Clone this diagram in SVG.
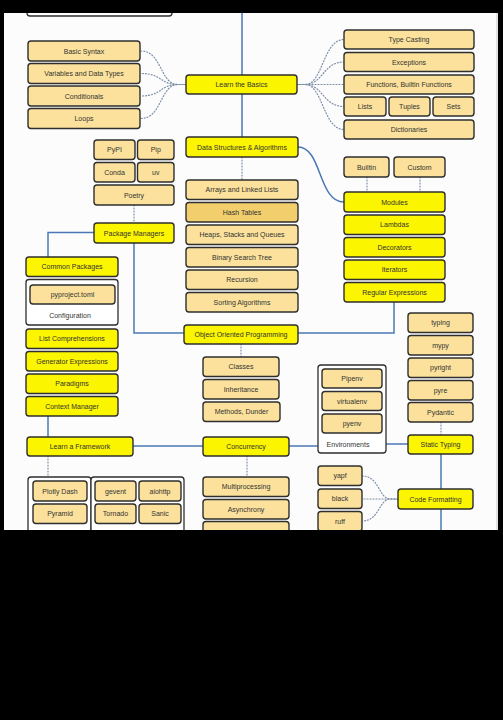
<svg xmlns="http://www.w3.org/2000/svg" width="503" height="720" viewBox="0 0 503 720">
<defs>
<style>
.n{fill:#fbe19b;stroke:#2e2e2e;stroke-width:1.4}
.h{fill:#f2cf6c;stroke:#2e2e2e;stroke-width:1.4}
.y{fill:#fbf500;stroke:#2e2e2e;stroke-width:1.4}
.g{fill:#ffffff;stroke:#2e2e2e;stroke-width:1.3}
text{font-family:"Liberation Sans","DejaVu Sans",sans-serif;font-size:7px;fill:#333;text-anchor:middle;dominant-baseline:central}
.b{fill:none;stroke:#4a78b4;stroke-width:1.5}
.d{fill:none;stroke:#7c8ea8;stroke-width:1.2;stroke-dasharray:1 2;stroke-linecap:round}
</style>
<clipPath id="clip"><rect x="4" y="13" width="494" height="517"/></clipPath>
</defs>
<rect x="0" y="0" width="503" height="720" fill="#000"/>
<rect x="4" y="13" width="494" height="517" fill="#fcfcfc"/>
<line x1="497" y1="13" x2="497" y2="530" stroke="#c8c8c8" stroke-width="1"/>
<g clip-path="url(#clip)">
<g id="connectors">
<path class="b" d="M242,13 V75"/>
<path class="b" d="M242,94 V137"/>
<path class="b" d="M298,147 C322,147 318,202 344,202"/>
<path class="b" d="M134,243 V333 H184"/>
<path class="b" d="M94,232.5 H48 V257"/>
<path class="b" d="M298,333 H394 V302"/>
<path class="b" d="M48,416 V437"/>
<path class="b" d="M133,446 H203"/>
<path class="b" d="M289,446 H318"/>
<path class="b" d="M386,444 H408"/>
<path class="b" d="M441,454 V489"/>
<path class="b" d="M441,509 V530"/>
<path class="d" d="M186,84.5 H178 C160,84.5 162,51 141,51"/>
<path class="d" d="M186,84.5 H178 C160,84.5 162,73.5 141,73.5"/>
<path class="d" d="M186,84.5 H178 C160,84.5 162,96 141,96"/>
<path class="d" d="M186,84.5 H178 C160,84.5 162,118.5 141,118.5"/>
<path class="d" d="M297,84.5 H305 C323,84.5 323,39.5 344,39.5"/>
<path class="d" d="M297,84.5 H305 C323,84.5 323,62 344,62"/>
<path class="d" d="M297,84.5 H344"/>
<path class="d" d="M297,84.5 H305 C323,84.5 323,106.5 344,106.5"/>
<path class="d" d="M297,84.5 H305 C323,84.5 323,129.5 344,129.5"/>
<path class="d" d="M242,157 V180"/>
<path class="d" d="M134,205 V223"/>
<path class="d" d="M367,177 V192"/>
<path class="d" d="M420,177 V192"/>
<path class="d" d="M241,344 V357"/>
<path class="d" d="M247,456 V477"/>
<path class="d" d="M48,456 V477"/>
<path class="d" d="M441,422 V435"/>
<path class="d" d="M398,499 H391 C378,499 380,476 362,476"/>
<path class="d" d="M398,499 H362"/>
<path class="d" d="M398,499 H391 C378,499 380,521 362,521"/>
</g>

<g id="top-box"><rect class="g" x="27" y="0" width="145" height="16" rx="3"/></g>

<g id="learn-basics"><rect class="y" x="186" y="75" width="111" height="19" rx="3"/><text x="241.5" y="84.5">Learn the Basics</text></g>
<g id="basic-syntax"><rect class="n" x="28" y="41" width="112" height="20" rx="3"/><text x="84" y="51">Basic Syntax</text></g>
<g id="variables"><rect class="n" x="28" y="63.5" width="112" height="20" rx="3"/><text x="84" y="73.5">Variables and Data Types</text></g>
<g id="conditionals"><rect class="n" x="28" y="86" width="112" height="20" rx="3"/><text x="84" y="96">Conditionals</text></g>
<g id="loops"><rect class="n" x="28" y="108.5" width="112" height="20" rx="3"/><text x="84" y="118.5">Loops</text></g>

<g id="type-casting"><rect class="n" x="344" y="30" width="130" height="19" rx="3"/><text x="409" y="39.5">Type Casting</text></g>
<g id="exceptions"><rect class="n" x="344" y="52.5" width="130" height="19" rx="3"/><text x="409" y="62">Exceptions</text></g>
<g id="functions"><rect class="n" x="344" y="75" width="130" height="19" rx="3"/><text x="409" y="84.5">Functions, Builtin Functions</text></g>
<g id="lists"><rect class="n" x="344" y="97" width="42" height="19" rx="3"/><text x="365" y="106.5">Lists</text></g>
<g id="tuples"><rect class="n" x="389" y="97" width="41" height="19" rx="3"/><text x="409.5" y="106.5">Tuples</text></g>
<g id="sets"><rect class="n" x="433" y="97" width="41" height="19" rx="3"/><text x="453.5" y="106.5">Sets</text></g>
<g id="dictionaries"><rect class="n" x="344" y="120" width="130" height="19" rx="3"/><text x="409" y="129.5">Dictionaries</text></g>

<g id="dsa"><rect class="y" x="186" y="137" width="112" height="20" rx="3"/><text x="242" y="147">Data Structures &amp; Algorithms</text></g>
<g id="arrays"><rect class="n" x="186" y="180" width="112" height="19.5" rx="3"/><text x="242" y="189.75">Arrays and Linked Lists</text></g>
<g id="hash"><rect class="h" x="186" y="202.5" width="112" height="19.5" rx="3"/><text x="242" y="212.25">Hash Tables</text></g>
<g id="heaps"><rect class="n" x="186" y="225" width="112" height="19.5" rx="3"/><text x="242" y="234.75">Heaps, Stacks and Queues</text></g>
<g id="bst"><rect class="n" x="186" y="247.5" width="112" height="19.5" rx="3"/><text x="242" y="257.25">Binary Search Tree</text></g>
<g id="recursion"><rect class="n" x="186" y="270" width="112" height="19.5" rx="3"/><text x="242" y="279.75">Recursion</text></g>
<g id="sorting"><rect class="n" x="186" y="292.5" width="112" height="19.5" rx="3"/><text x="242" y="302.25">Sorting Algorithms</text></g>

<g id="pypi"><rect class="n" x="94" y="140" width="41" height="19.5" rx="3"/><text x="114.5" y="149.75">PyPI</text></g>
<g id="pip"><rect class="n" x="137.5" y="140" width="36.5" height="19.5" rx="3"/><text x="155.75" y="149.75">Pip</text></g>
<g id="conda"><rect class="n" x="94" y="162.5" width="41" height="19.5" rx="3"/><text x="114.5" y="172.25">Conda</text></g>
<g id="uv"><rect class="n" x="137.5" y="162.5" width="36.5" height="19.5" rx="3"/><text x="155.75" y="172.25">uv</text></g>
<g id="poetry"><rect class="n" x="94" y="185" width="80" height="20" rx="3"/><text x="134" y="195">Poetry</text></g>
<g id="package-managers"><rect class="y" x="94" y="223" width="80" height="20" rx="3"/><text x="134" y="233">Package Managers</text></g>

<g id="common-packages"><rect class="y" x="26" y="257" width="92" height="19.5" rx="3"/><text x="72" y="266.75">Common Packages</text></g>
<g id="configuration"><rect class="g" x="26" y="279.5" width="92" height="45.5" rx="3"/><rect class="n" x="30" y="285" width="85" height="19" rx="3"/><text x="72.5" y="294.5">pyproject.toml</text><text x="70" y="315">Configuration</text></g>
<g id="list-comp"><rect class="y" x="26" y="329" width="92" height="19.5" rx="3"/><text x="72" y="338.75">List Comprehensions</text></g>
<g id="generator"><rect class="y" x="26" y="351.5" width="92" height="19.5" rx="3"/><text x="72" y="361.25">Generator Expressions</text></g>
<g id="paradigms"><rect class="y" x="26" y="374" width="92" height="19.5" rx="3"/><text x="72" y="383.75">Paradigms</text></g>
<g id="context-manager"><rect class="y" x="26" y="396.5" width="92" height="19.5" rx="3"/><text x="72" y="406.25">Context Manager</text></g>

<g id="builtin"><rect class="n" x="344" y="157" width="45" height="20" rx="3"/><text x="366.5" y="167">Builtin</text></g>
<g id="custom"><rect class="n" x="394" y="157" width="51" height="20" rx="3"/><text x="419.5" y="167">Custom</text></g>
<g id="modules"><rect class="y" x="344" y="192" width="101" height="20" rx="3"/><text x="394.5" y="202">Modules</text></g>
<g id="lambdas"><rect class="y" x="344" y="215" width="101" height="19.5" rx="3"/><text x="394.5" y="224.75">Lambdas</text></g>
<g id="decorators"><rect class="y" x="344" y="237.5" width="101" height="19.5" rx="3"/><text x="394.5" y="247.25">Decorators</text></g>
<g id="iterators"><rect class="y" x="344" y="260" width="101" height="19.5" rx="3"/><text x="394.5" y="269.75">Iterators</text></g>
<g id="regex"><rect class="y" x="344" y="282.5" width="101" height="19.5" rx="3"/><text x="394.5" y="292.25">Regular Expressions</text></g>

<g id="oop"><rect class="y" x="184" y="325" width="114" height="19" rx="3"/><text x="241" y="334.5">Object Oriented Programming</text></g>
<g id="classes"><rect class="n" x="203" y="357" width="76" height="19.5" rx="3"/><text x="241" y="366.75">Classes</text></g>
<g id="inheritance"><rect class="n" x="203" y="379.5" width="76" height="19.5" rx="3"/><text x="241" y="389.25">Inheritance</text></g>
<g id="methods"><rect class="n" x="203" y="402" width="77" height="19.5" rx="3"/><text x="241.5" y="411.75">Methods, Dunder</text></g>

<g id="typing"><rect class="n" x="408" y="313" width="65" height="19.5" rx="3"/><text x="440.5" y="322.75">typing</text></g>
<g id="mypy"><rect class="n" x="408" y="335.5" width="65" height="19.5" rx="3"/><text x="440.5" y="345.25">mypy</text></g>
<g id="pyright"><rect class="n" x="408" y="358" width="65" height="19.5" rx="3"/><text x="440.5" y="367.75">pyright</text></g>
<g id="pyre"><rect class="n" x="408" y="380.5" width="65" height="19.5" rx="3"/><text x="440.5" y="390.25">pyre</text></g>
<g id="pydantic"><rect class="n" x="408" y="402.5" width="65" height="19.5" rx="3"/><text x="440.5" y="412.25">Pydantic</text></g>
<g id="static-typing"><rect class="y" x="408" y="435" width="65" height="19" rx="3"/><text x="440.5" y="444.5">Static Typing</text></g>

<g id="environments"><rect class="g" x="318" y="365" width="68" height="88" rx="3"/><rect class="n" x="322" y="369" width="60" height="19" rx="3"/><text x="352" y="378.5">Pipenv</text><rect class="n" x="322" y="391.5" width="60" height="19" rx="3"/><text x="352" y="401">virtualenv</text><rect class="n" x="322" y="414" width="60" height="19" rx="3"/><text x="352" y="423.5">pyenv</text><text x="348" y="444">Environments</text></g>

<g id="learn-framework"><rect class="y" x="27" y="437" width="106" height="19" rx="3"/><text x="80" y="446.5">Learn a Framework</text></g>
<g id="concurrency"><rect class="y" x="203" y="437" width="86" height="19" rx="3"/><text x="246" y="446.5">Concurrency</text></g>
<g id="multiprocessing"><rect class="n" x="203" y="477" width="86" height="19.5" rx="3"/><text x="246" y="486.75">Multiprocessing</text></g>
<g id="asynchrony"><rect class="n" x="203" y="499.5" width="86" height="19.5" rx="3"/><text x="246" y="509.25">Asynchrony</text></g>
<g id="concurrency-3"><rect class="n" x="203" y="521.5" width="86" height="19.5" rx="3"/></g>

<g id="frameworks-a"><rect class="g" x="28" y="477" width="63" height="60" rx="3"/><rect class="n" x="33" y="481" width="54" height="20" rx="3"/><text x="60" y="491">Plotly Dash</text><rect class="n" x="33" y="504" width="54" height="19.5" rx="3"/><text x="60" y="513.75">Pyramid</text></g>
<g id="frameworks-b"><rect class="g" x="91" y="477" width="93" height="60" rx="3"/><rect class="n" x="95" y="481" width="41" height="20" rx="3"/><text x="115.5" y="491">gevent</text><rect class="n" x="139" y="481" width="42" height="20" rx="3"/><text x="160" y="491">aiohttp</text><rect class="n" x="95" y="504" width="41" height="19.5" rx="3"/><text x="115.5" y="513.75">Tornado</text><rect class="n" x="139" y="504" width="42" height="19.5" rx="3"/><text x="160" y="513.75">Sanic</text></g>

<g id="yapf"><rect class="n" x="318" y="466" width="44" height="19.5" rx="3"/><text x="340" y="475.75">yapf</text></g>
<g id="black"><rect class="n" x="318" y="489" width="44" height="19.5" rx="3"/><text x="340" y="498.75">black</text></g>
<g id="ruff"><rect class="n" x="318" y="511.5" width="44" height="19.5" rx="3"/><text x="340" y="521.25">ruff</text></g>
<g id="code-formatting"><rect class="y" x="398" y="489" width="75" height="20" rx="3"/><text x="435.5" y="499">Code Formatting</text></g>
</g>
</svg>
